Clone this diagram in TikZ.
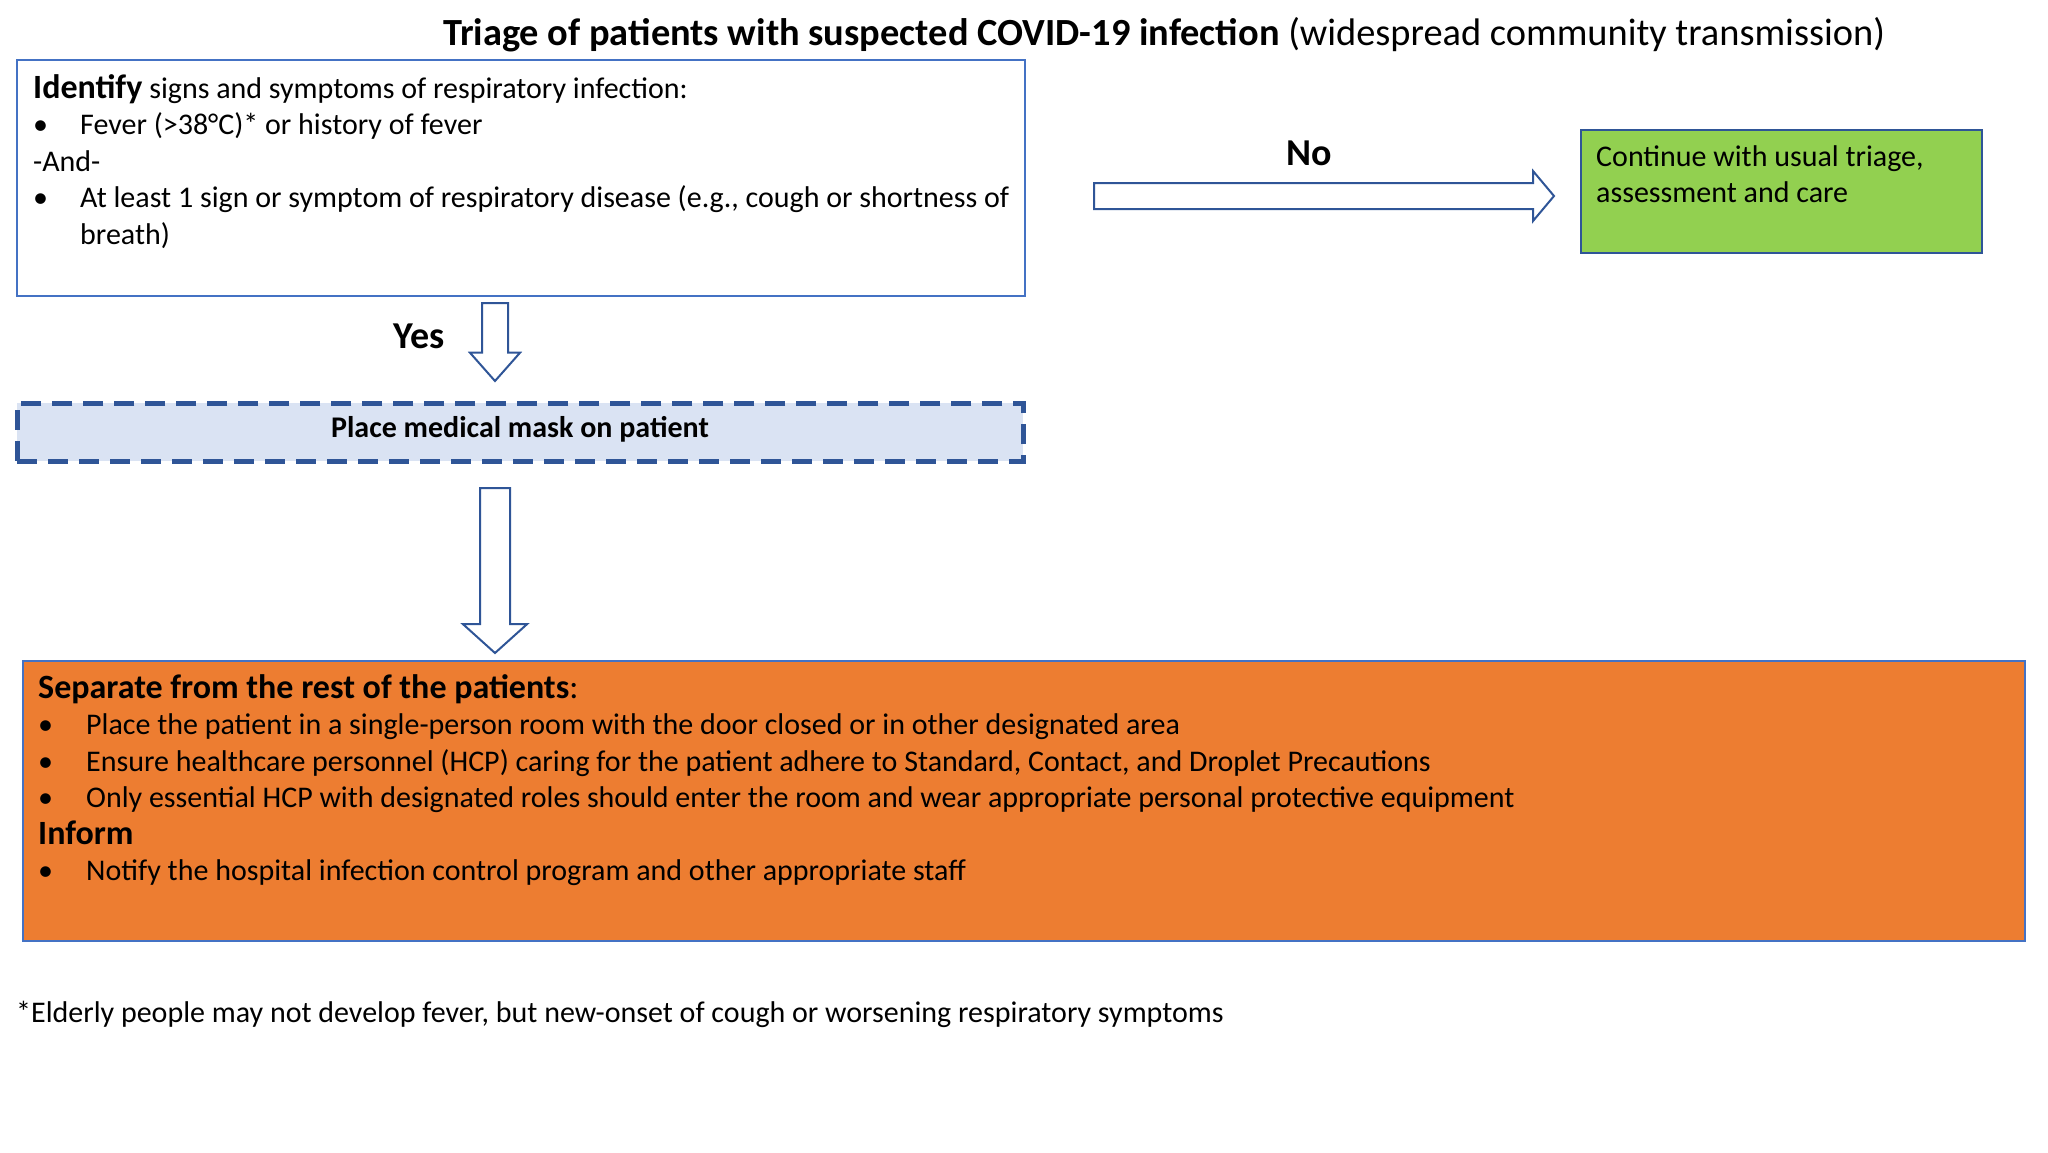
\documentclass[tikz,border=0pt]{standalone}
\usepackage{fontspec}
\setmainfont{Carlito}
\usetikzlibrary{shapes.arrows,positioning}
\definecolor{boxblue}{HTML}{4472C4}
\definecolor{darkblue}{HTML}{2F5597}
\definecolor{maskfill}{HTML}{DAE3F3}
\definecolor{sepfill}{HTML}{ED7D31}
\definecolor{okgreen}{HTML}{92D050}
\newcommand{\bul}{\makebox[47pt][l]{\textbullet}}
\newcommand{\bulo}{\makebox[48pt][l]{\textbullet}}
\tikzset{
  % rutor
  panel/.style={draw=boxblue,line width=2pt,inner sep=0pt,anchor=north west},
  maskbox/.style={panel,draw=darkblue,fill=maskfill,line width=4.5pt,
                  dash pattern=on 20pt off 11pt},
  sepbox/.style={panel,fill=sepfill},
  okbox/.style={panel,draw=darkblue,fill=okgreen},
  % text
  txt/.style={anchor=base west,inner sep=0pt,font=\fontsize{30}{36.5}\selectfont},
  big/.style={inner sep=0pt,font=\fontsize{38}{44}\selectfont\bfseries},
  % blockpilar
  barrow/.style={single arrow,draw=darkblue,fill=white,line width=2pt,
                 inner xsep=0pt,anchor=tail},
}
\begin{document}
\begin{tikzpicture}[x=1pt,y=-1pt]
\useasboundingbox (0,0) rectangle (2048,1152);
  \node[anchor=base,inner sep=0pt,font=\fontsize{38.4}{44}\selectfont] (title) at (1164,45)
    {\textbf{Triage of patients with suspected COVID-19 infection} (widespread community transmission)};
  % steg 1
  \node[panel,minimum width=1008pt,minimum height=236pt] (ident) at (16,59) {};
  \node[txt] (identtxt) at (33,98) {\parbox[t]{990pt}{%
    {\fontsize{34}{36.5}\selectfont\textbf{Identify}} signs and symptoms of respiratory infection:\\
    \bul Fever (>38°C)* or history of fever\\
    -And-\\
    \bul At least 1 sign or symptom of respiratory disease (e.g., cough or shortness of\\
    \hspace*{47pt}breath)}};
  \node[barrow,minimum height=78pt,inner ysep=12pt,single arrow head extend=12pt,
        single arrow tip angle=83,rotate=-90] (yesarrow) at (495,302) {};
  \node[big] (yes) at (419,336) {Yes};
  \node[barrow,minimum height=460pt,inner ysep=12pt,single arrow head extend=12pt,
        single arrow tip angle=100] (noarrow) at (1093,196) {};
  \node[big] (no) at (1309,153) {No};
  \node[okbox,minimum width=401pt,minimum height=123pt] (usual) at (1580,129) {};
  \node[txt] (usualtxt) at (1596,166) {\parbox[t]{380pt}{Continue with usual triage,\\assessment and care}};
  % mask
  \node[maskbox,minimum width=1006pt,minimum height=58pt] (mask) at (15,401) {};
  \node[inner sep=0pt,font=\fontsize{30}{34}\selectfont\bfseries] (masktxt) at (520,429) {Place medical mask on patient};
  \node[barrow,minimum height=165pt,inner ysep=14pt,single arrow head extend=17pt,
        single arrow tip angle=96,rotate=-90] (maskarrow) at (495,487) {};
  % isolera
  \node[sepbox,minimum width=2002pt,minimum height=280pt] (separate) at (22,660) {};
  \node[txt] (separatetxt) at (38,698) {\parbox[t]{1960pt}{%
    {\fontsize{34}{37}\selectfont\textbf{Separate from the rest of the patients}:}\\
    \bulo Place the patient in a single-person room with the door closed or in other designated area\\
    \bulo Ensure healthcare personnel (HCP) caring for the patient adhere to Standard, Contact, and Droplet Precautions\\
    \bulo Only essential HCP with designated roles should enter the room and wear appropriate personal protective equipment\\
    {\fontsize{34}{37}\selectfont\textbf{Inform}}\\
    \bulo Notify the hospital infection control program and other appropriate staff}};
  \node[txt] (note) at (16,1022) {*Elderly people may not develop fever, but new-onset of cough or worsening respiratory symptoms};
\end{tikzpicture}
\end{document}
